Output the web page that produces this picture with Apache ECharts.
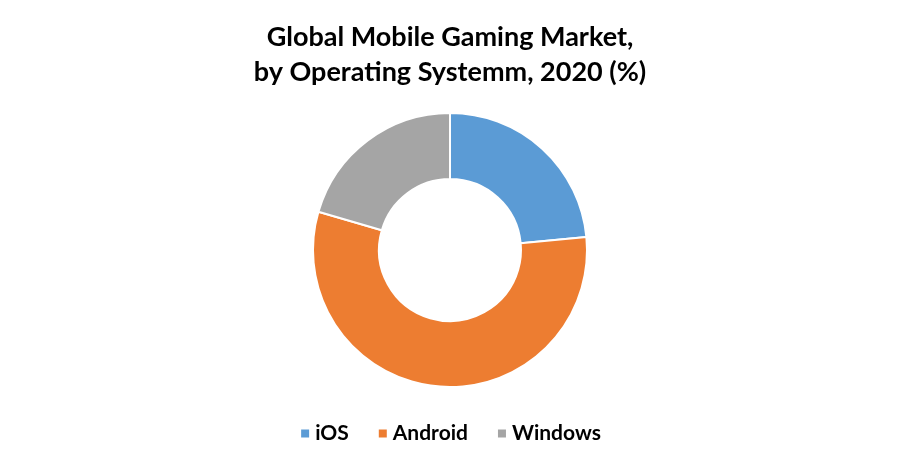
<!DOCTYPE html>
<html><head><meta charset="utf-8">
<script src="https://cdn.jsdelivr.net/npm/echarts@6/dist/echarts.min.js"></script>
<style>html,body{margin:0;padding:0;background:#fff}#c{width:900px;height:466px}</style>
</head><body><div id="c"></div>
<script>
const categories = ["iOS", "Android", "Windows"];
const shares = [23.5, 56, 20.5];
const colors = ["#5B9BD5", "#ED7D31", "#A5A5A5"];

const chart = echarts.init(document.getElementById('c'));
chart.setOption({
  animation: false,
  title: {
    text: "Global Mobile Gaming Market,\nby Operating Systemm, 2020 (%)",
    left: 'center', top: 15,
    textStyle: {fontFamily: 'Lato', fontWeight: 'bold', fontSize: 27, lineHeight: 35, color: '#000'}
  },
  legend: {
    bottom: 17, left: 'center', itemWidth: 10, itemHeight: 10, itemGap: 28, icon: 'rect',
    textStyle: {fontFamily: 'Lato', fontWeight: 'bold', fontSize: 21, color: '#000'},
    data: categories
  },
  series: [{
    type: 'pie', center: [450, 250], radius: [71, 137], startAngle: 90, clockwise: true,
    label: {show: false}, labelLine: {show: false},
    itemStyle: {borderColor: '#fff', borderWidth: 2},
    data: categories.map((n, i) => ({name: n, value: shares[i], itemStyle: {color: colors[i]}}))
  }]
});
</script></body></html>
